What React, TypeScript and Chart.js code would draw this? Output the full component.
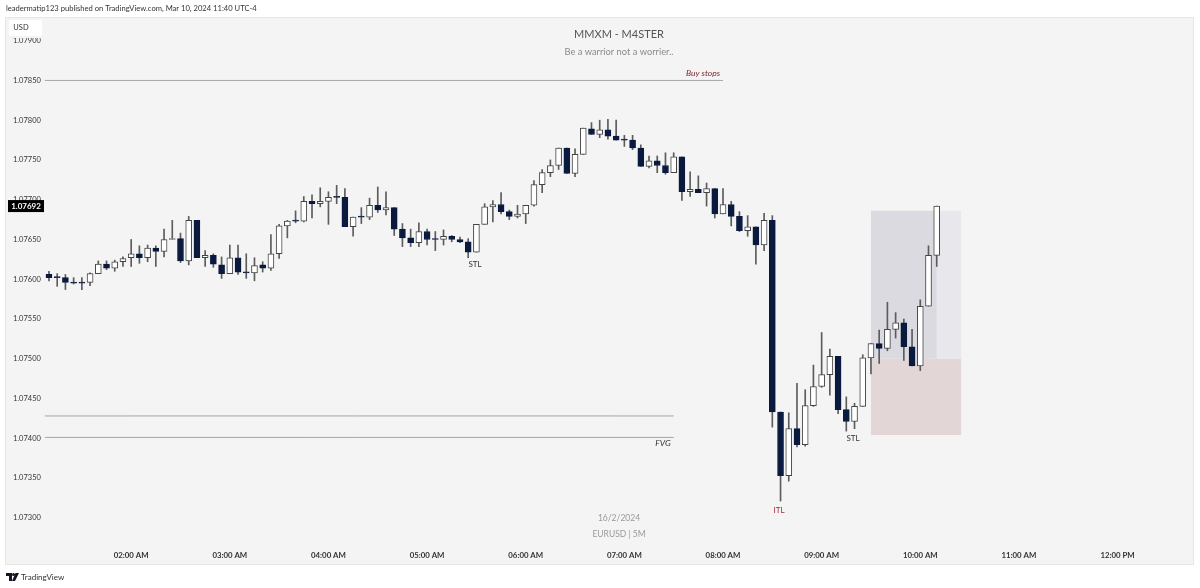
import React, { useEffect, useRef } from 'react';
import { Chart, registerables } from 'chart.js';

Chart.register(...registerables);

const opens = [
	1.07606, 1.07602, 1.07602, 1.07596, 1.07596, 1.07596, 1.07607, 1.07619, 1.07614, 1.07622,
	1.07627, 1.07632, 1.07627, 1.07639, 1.07635, 1.0765, 1.07651, 1.07623, 1.07674, 1.07627,
	1.0763, 1.07618, 1.07607, 1.07627, 1.07609, 1.07608, 1.07618, 1.07614, 1.07632, 1.07667,
	1.07673, 1.07673, 1.07698, 1.07695, 1.07698, 1.07703, 1.07703, 1.07666, 1.07678, 1.07678,
	1.07693, 1.07687, 1.0769, 1.07663, 1.07652, 1.07646, 1.0766, 1.0765, 1.0765, 1.07654,
	1.0765, 1.07647, 1.07634, 1.07669, 1.07691, 1.07694, 1.07685, 1.07679, 1.07682, 1.07693,
	1.07719, 1.07734, 1.07743, 1.07765, 1.07733, 1.07757, 1.07789, 1.07782, 1.07788, 1.0778,
	1.07775, 1.07775, 1.07765, 1.07742, 1.07749, 1.07743, 1.07734, 1.07754, 1.0771, 1.07713,
	1.07709, 1.07714, 1.07682, 1.07694, 1.07679, 1.07661, 1.07666, 1.07643, 1.07674, 1.07433,
	1.07353, 1.07412, 1.07392, 1.07441, 1.07465, 1.0748, 1.07503, 1.07436, 1.07421, 1.0744,
	1.07501, 1.07519, 1.07513, 1.07537, 1.07545, 1.07515, 1.07491, 1.07566, 1.0763,
];
const highs = [
	1.0761, 1.07607, 1.07606, 1.07602, 1.07602, 1.07608, 1.07623, 1.07623, 1.07624, 1.07628,
	1.0765, 1.07642, 1.07643, 1.07642, 1.07663, 1.07674, 1.07658, 1.07679, 1.07674, 1.07636,
	1.07632, 1.07628, 1.07643, 1.07643, 1.07632, 1.07627, 1.07622, 1.07656, 1.07669, 1.07674,
	1.07686, 1.07704, 1.07706, 1.07715, 1.0771, 1.07718, 1.07714, 1.07678, 1.0769, 1.07702,
	1.07716, 1.0771, 1.0769, 1.0767, 1.07663, 1.07671, 1.07663, 1.0766, 1.07662, 1.07655,
	1.07653, 1.07651, 1.07669, 1.07695, 1.07699, 1.07709, 1.07687, 1.07693, 1.07693, 1.07724,
	1.07738, 1.0775, 1.07765, 1.07765, 1.07764, 1.0779, 1.07797, 1.078, 1.07801, 1.078,
	1.07781, 1.07781, 1.07769, 1.07755, 1.07755, 1.07759, 1.07759, 1.07754, 1.07735, 1.0773,
	1.07721, 1.07714, 1.07714, 1.07698, 1.07685, 1.0768, 1.07666, 1.07683, 1.0768, 1.07433,
	1.07432, 1.07469, 1.07461, 1.07492, 1.07533, 1.07512, 1.07503, 1.07452, 1.07444, 1.07505,
	1.07519, 1.07536, 1.07571, 1.07558, 1.0755, 1.07537, 1.07574, 1.07642, 1.07692,
];
const lows = [
	1.07598, 1.07591, 1.07587, 1.07594, 1.07587, 1.07592, 1.07607, 1.07612, 1.0761, 1.07616,
	1.07616, 1.0762, 1.07622, 1.07616, 1.07628, 1.0765, 1.07621, 1.07618, 1.07627, 1.07616,
	1.07615, 1.07601, 1.07607, 1.07606, 1.07601, 1.07598, 1.07609, 1.07611, 1.07626, 1.07652,
	1.07671, 1.07672, 1.07677, 1.07691, 1.07669, 1.07695, 1.07666, 1.07654, 1.0767, 1.07675,
	1.07684, 1.07681, 1.07655, 1.07641, 1.07641, 1.07641, 1.07643, 1.07636, 1.07643, 1.07647,
	1.07646, 1.07627, 1.07634, 1.07669, 1.07672, 1.07682, 1.07675, 1.07677, 1.0767, 1.07692,
	1.07709, 1.07729, 1.07738, 1.07733, 1.07729, 1.07757, 1.07782, 1.07778, 1.07776, 1.07775,
	1.07767, 1.07763, 1.07742, 1.0774, 1.07734, 1.07732, 1.07734, 1.07699, 1.07704, 1.07709,
	1.07692, 1.07677, 1.07682, 1.07667, 1.0766, 1.07654, 1.07619, 1.07636, 1.07414, 1.07321,
	1.07346, 1.07389, 1.0739, 1.0744, 1.07464, 1.07454, 1.07431, 1.07409, 1.07412, 1.0744,
	1.07481, 1.07494, 1.0751, 1.07526, 1.07498, 1.07491, 1.07485, 1.07566, 1.07616,
];
const closes = [
	1.07602, 1.07602, 1.07596, 1.07595, 1.07595, 1.07607, 1.07619, 1.07614, 1.07622, 1.07626,
	1.07632, 1.07627, 1.07639, 1.07635, 1.0765, 1.07651, 1.07623, 1.07674, 1.07627, 1.0763,
	1.07619, 1.07607, 1.07627, 1.07609, 1.07608, 1.07617, 1.07614, 1.07632, 1.07667, 1.07673,
	1.07673, 1.07698, 1.07695, 1.07698, 1.07703, 1.07703, 1.07666, 1.07678, 1.07678, 1.07693,
	1.07687, 1.0769, 1.07663, 1.07652, 1.07646, 1.0766, 1.0765, 1.0765, 1.07654, 1.0765,
	1.07647, 1.07634, 1.07669, 1.07691, 1.07694, 1.07685, 1.07679, 1.07682, 1.07693, 1.07719,
	1.07734, 1.07743, 1.07765, 1.07733, 1.07757, 1.0779, 1.07782, 1.07788, 1.0778, 1.07775,
	1.07775, 1.07765, 1.07742, 1.07749, 1.07743, 1.07734, 1.07754, 1.0771, 1.07713, 1.07709,
	1.07714, 1.07682, 1.07694, 1.07679, 1.07661, 1.07666, 1.07643, 1.07674, 1.07433, 1.07353,
	1.07412, 1.07392, 1.07441, 1.07465, 1.0748, 1.07503, 1.07436, 1.07421, 1.0744, 1.07501,
	1.07519, 1.07513, 1.07537, 1.07545, 1.07515, 1.07491, 1.07566, 1.0763, 1.07692,
];

const priceTicks = [1.079, 1.0785, 1.078, 1.0775, 1.077, 1.0765, 1.076, 1.0755, 1.075, 1.0745, 1.074, 1.0735, 1.073];
const hourBars = [10, 22, 34, 46, 58, 70, 82, 94, 106, 118, 130];
const hourLabels = ['02:00 AM', '03:00 AM', '04:00 AM', '05:00 AM', '06:00 AM', '07:00 AM', '08:00 AM', '09:00 AM', '10:00 AM', '11:00 AM', '12:00 PM'];

const buyStops = [1.0785, -0.5, 82];
const fvgTop = [1.07428, -0.5, 76];
const fvgBottom = [1.07401, -0.5, 76];
const zoneBars = [100, 108, 111];
const zonePrices = [1.07686, 1.075, 1.07404];

const hline = ([price, from, to]: number[], order: number) => ({
	type: 'line' as const,
	data: [{ x: from, y: price }, { x: to, y: price }],
	borderColor: '#a6a6a6',
	borderWidth: 1,
	pointRadius: 0,
	order,
});

const zone = (from: number, to: number, top: number, bottom: number, color: string, order: number) => ({
	type: 'line' as const,
	data: [{ x: from, y: top }, { x: to, y: top }],
	borderWidth: 0,
	pointRadius: 0,
	backgroundColor: color,
	fill: { value: bottom },
	order,
});

const DARK = '#0a1a3f';
const PANEL = '#f4f4f4';
const FONT = 'Lato';

// panel, texts and the last price tag, everything that is not a series
const decorations = {
	id: 'decorations',
	beforeDraw(chart: any) {
		const { ctx } = chart;
		ctx.save();
		ctx.fillStyle = '#ffffff';
		ctx.fillRect(0, 0, 1200, 588);
		ctx.fillStyle = PANEL;
		ctx.fillRect(5, 17, 1189, 548);
		ctx.strokeStyle = '#e6e6e6';
		ctx.strokeRect(5.5, 17.5, 1188, 547);
		ctx.restore();
	},
	afterDraw(chart: any) {
		const { ctx, scales } = chart;
		const text = (s: string, x: number, y: number, font: string, color: string, align: CanvasTextAlign = 'center') => {
			ctx.font = font;
			ctx.fillStyle = color;
			ctx.textAlign = align;
			ctx.textBaseline = 'middle';
			ctx.fillText(s, x, y);
		};
		ctx.save();

		text('leadermatip123 published on TradingView.com, Mar 10, 2024 11:40 UTC-4', 6, 9, `7.6px ${FONT}`, '#333333', 'left');

		// the badge hides the top of the 1.07900 tick
		ctx.fillStyle = PANEL;
		ctx.fillRect(9, 34, 33, 4);
		ctx.fillStyle = '#ffffff';
		ctx.beginPath();
		ctx.roundRect(9, 20, 33, 16, 2);
		ctx.fill();
		text('USD', 21, 28, `7.5px ${FONT}`, '#333333');

		text('MMXM - M4STER', 619, 34, `11px ${FONT}`, '#555555');
		text('Be a warrior not a worrier..', 619, 52, `9.3px ${FONT}`, '#8a8a8a');
		text('16/2/2024', 619, 518, `8.5px ${FONT}`, '#9a9a9a');
		text('EURUSD | 5M', 619, 534, `8.5px ${FONT}`, '#9a9a9a');

		text('Buy stops', 703, 73, `italic 8.5px ${FONT}`, '#7a1f2b');
		text('FVG', 663, 443, `italic 8.5px ${FONT}`, '#333333');
		text('STL', 475, 264, `8px ${FONT}`, '#333333');
		text('STL', 853, 438, `8px ${FONT}`, '#333333');
		text('ITL', 779, 510, `8px ${FONT}`, '#a02c3a');

		const last = closes[closes.length - 1];
		const y = scales.y.getPixelForValue(last);
		ctx.fillStyle = '#000000';
		ctx.fillRect(8, y - 6, 36, 12);
		text(last.toFixed(5), 26, y, `bold 8px ${FONT}`, '#ffffff');

		// logo
		ctx.fillStyle = '#131722';
		ctx.fillRect(6, 573, 6, 3);
		ctx.fillRect(9, 573, 3, 8);
		ctx.beginPath();
		ctx.arc(13.5, 574.5, 1.5, 0, Math.PI * 2);
		ctx.fill();
		ctx.beginPath();
		ctx.moveTo(15, 581);
		ctx.lineTo(12, 581);
		ctx.lineTo(15.5, 573);
		ctx.lineTo(19, 573);
		ctx.closePath();
		ctx.fill();
		text('TradingView', 21, 577, `8px ${FONT}`, '#333333', 'left');
		ctx.restore();
	},
};

const App: React.FC = () => {
	const chartRef = useRef<HTMLCanvasElement | null>(null);

	useEffect(() => {
		if (!chartRef.current) return;
		const bars = opens.map((_, i) => i);
		const chart = new Chart(chartRef.current, {
			type: 'bar',
			data: {
				datasets: [
					zone(zoneBars[0], zoneBars[1], zonePrices[0], zonePrices[1], 'rgba(120,120,145,0.13)', 6),
					zone(zoneBars[0], zoneBars[2], zonePrices[0], zonePrices[1], '#e8e8ec', 7),
					zone(zoneBars[0], zoneBars[2], zonePrices[1], zonePrices[2], '#e3d6d6', 7),
					hline(buyStops, 4),
					hline(fvgTop, 4),
					hline(fvgBottom, 4),
					{
						data: bars.map((i) => ({ x: i, y: [lows[i], highs[i]] })),
						backgroundColor: '#5c5c5c',
						barThickness: 1,
						grouped: false,
						order: 2,
					},
					{
						data: bars.map((i) => ({ x: i, y: [opens[i], closes[i]] })),
						backgroundColor: bars.map((i) => (closes[i] > opens[i] ? '#ffffff' : DARK)),
						borderColor: bars.map((i) => (closes[i] > opens[i] ? '#444444' : DARK)),
						borderWidth: 1,
						borderSkipped: false,
						barThickness: 6,
						minBarLength: 1,
						grouped: false,
						order: 1,
					},
				] as any,
			},
			options: {
				animation: false,
				responsive: false,
				parsing: { xAxisKey: 'x', yAxisKey: 'y' } as any,
				layout: { padding: { left: 5, right: 6, top: 17, bottom: 23 } },
				plugins: { legend: { display: false }, tooltip: { enabled: false }, title: { display: false } },
				scales: {
					x: {
						type: 'linear',
						offset: false,
						min: -5.35,
						max: 139.3,
						grid: { display: false, drawTicks: false },
						border: { display: false },
						afterFit: (s: any) => { s.height = 20; },
						afterBuildTicks: (s: any) => { s.ticks = hourBars.map((value) => ({ value })); },
						ticks: {
							autoSkip: false,
							maxRotation: 0,
							padding: 6,
							color: '#333333',
							font: { family: FONT, size: 7.8, weight: 'bold' },
							callback: (v: any) => hourLabels[hourBars.indexOf(v)],
						},
					},
					y: {
						type: 'linear',
						position: 'left',
						min: 1.072657,
						max: 1.079298,
						grid: { display: false, drawTicks: false },
						border: { display: false },
						afterFit: (s: any) => { s.width = 0; },
						afterBuildTicks: (s: any) => { s.ticks = priceTicks.map((value) => ({ value })); },
						ticks: {
							mirror: true,
							autoSkip: false,
							padding: 8,
							color: '#333333',
							font: { family: FONT, size: 7.5 },
							callback: (v: any) => Number(v).toFixed(5),
						},
					},
				},
			},
			plugins: [decorations],
		} as any);
		return () => chart.destroy();
	}, []);

	return (
		<div style={{ position: 'fixed', left: 0, top: 0, width: 1200, height: 588 }}>
			<canvas ref={chartRef} width={1200} height={588} style={{ display: 'block' }} />
		</div>
	);
};

export default App;
